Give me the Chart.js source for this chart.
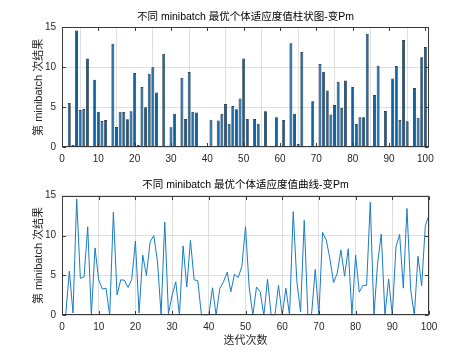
<!DOCTYPE html>
<html>
<head>
<meta charset="utf-8">
<script src="https://cdn.jsdelivr.net/npm/chart.js@4/dist/chart.umd.min.js"></script>
<style>
  html, body { margin: 0; padding: 0; background: #ffffff; }
  #wrap { position: relative; width: 474px; height: 355px; background: #ffffff; }
  #c1 { position: absolute; left: 0; top: 0; }
  #c2 { position: absolute; left: 0; top: 170px; }
</style>
</head>
<body>
<div id="wrap">
  <canvas id="c1" width="474" height="170"></canvas>
  <canvas id="c2" width="474" height="185"></canvas>
</div>
<script>
// ---- data ----
const iterations = [1,2,3,4,5,6,7,8,9,10,11,12,13,14,15,16,17,18,19,20,
  21,22,23,24,25,26,27,28,29,30,31,32,33,34,35,36,37,38,39,40,
  41,42,43,44,45,46,47,48,49,50,51,52,53,54,55,56,57,58,59,60,
  61,62,63,64,65,66,67,68,69,70,71,72,73,74,75,76,77,78,79,80,
  81,82,83,84,85,86,87,88,89,90,91,92,93,94,95,96,97,98,99,100];
const bestFitness = [
  0, 5.55, 0.3, 14.6, 4.65, 4.8, 11.1, 0, 8.45, 4.45,
  3.3, 3.4, 0, 12.95, 2.55, 4.45, 4.4, 3.5, 4.5, 9.3,
  0.3, 7.55, 5.0, 9.2, 10.0, 6.85, 0.1, 11.7, 0.2, 2.5,
  4.2, 0, 8.7, 3.55, 9.4, 4.45, 4.35, 0, 0, 0,
  3.45, 0, 3.35, 4.2, 5.4, 2.95, 5.15, 4.75, 6.1, 11.1,
  3.55, 0, 3.55, 2.95, 0, 4.5, 0, 0, 3.75, 0,
  3.4, 0, 13.0, 4.2, 0.4, 11.9, 0, 0.1, 5.75, 0,
  10.4, 9.45, 7.1, 4.1, 5.3, 8.2, 4.9, 8.35, 0, 7.55,
  2.9, 3.75, 3.75, 14.2, 0, 6.55, 10.2, 0, 4.55, 0,
  8.6, 10.15, 3.4, 13.4, 3.25, 0, 7.4, 3.7, 11.25, 12.55
];
const xTickValues = [0,10,20,30,40,50,60,70,80,90,100];
const yTickValues = [0,5,10,15];
const titleBar = '不同 minibatch 最优个体适应度值柱状图-变Pm';
const titleLine = '不同 minibatch 最优个体适应度值曲线-变Pm';
const yLabel = '第 minibatch 次结果';
const xLabel = '迭代次数';

// ---- styling ----
const FONT = '"Liberation Sans", "Noto Sans CJK SC", Arial, sans-serif';
const TEXT = '#262626';
const GRID = '#dfdfdf';
const FRAME = '#3a3a3a';

const boxPlugin = {
  id: 'matlabBox',
  afterDraw(chart) {
    const ctx = chart.ctx;
    const a = chart.chartArea;
    const xs = chart.scales.x, ys = chart.scales.y;
    ctx.save();
    ctx.strokeStyle = FRAME;
    ctx.lineWidth = 1;
    const L = Math.round(a.left) + 0.5, R = Math.round(a.right) - 0.5;
    const T = Math.round(a.top) + 0.5, B = Math.round(a.bottom) - 0.5;
    ctx.strokeRect(L, T, R - L, B - T);
    const tl = 3.5;
    ctx.beginPath();
    xTickValues.forEach(v => {
      const px = Math.round(xs.getPixelForValue(v)) + 0.5;
      ctx.moveTo(px, B); ctx.lineTo(px, B - tl);
      ctx.moveTo(px, T); ctx.lineTo(px, T + tl);
    });
    yTickValues.forEach(v => {
      const py = Math.round(ys.getPixelForValue(v)) + 0.5;
      ctx.moveTo(L, py); ctx.lineTo(L + tl, py);
      ctx.moveTo(R, py); ctx.lineTo(R - tl, py);
    });
    ctx.stroke();
    ctx.restore();
  }
};

function makeOptions(opts) {
  return {
    responsive: false,
    animation: false,
    devicePixelRatio: 1,
    layout: { padding: { left: 0, right: 45, top: 0, bottom: 0 } },
    plugins: {
      legend: { display: false },
      tooltip: { enabled: false },
      title: {
        display: true,
        fullSize: false,
        text: opts.title,
        color: '#000000',
        font: { family: FONT, size: 10.5, weight: 'normal', lineHeight: 1.2 },
        padding: { top: opts.titleTop, bottom: opts.titleBottom }
      }
    },
    scales: {
      x: {
        type: 'linear',
        min: 0,
        max: opts.xMax,
        offset: false,
        afterBuildTicks: s => { s.ticks = xTickValues.map(v => ({ value: v })); },
        afterFit: s => { s.height = opts.xHeight; },
        grid: { color: GRID, lineWidth: 1, drawTicks: false },
        border: { display: false },
        ticks: {
          color: TEXT, padding: 6, maxRotation: 0, autoSkip: false,
          font: { family: FONT, size: 10 }
        },
        title: opts.xTitle ? {
          display: true, text: opts.xTitle, color: TEXT,
          font: { family: FONT, size: 11, lineHeight: 1.2 },
          padding: { top: 0, bottom: 7.4 }
        } : { display: false }
      },
      y: {
        min: 0,
        max: 15,
        afterBuildTicks: s => { s.ticks = yTickValues.map(v => ({ value: v })); },
        afterFit: s => { s.width = 62; },
        grid: { color: GRID, lineWidth: 1, drawTicks: false },
        border: { display: false },
        ticks: { color: TEXT, padding: 6, font: { family: FONT, size: 10 } },
        title: {
          display: true, text: yLabel, color: TEXT,
          font: { family: FONT, size: 11, lineHeight: 1.2 },
          padding: { top: 32, bottom: 0 }
        }
      }
    }
  };
}

const points = iterations.map((x, i) => ({ x: x, y: bestFitness[i] }));

new Chart(document.getElementById('c1'), {
  type: 'bar',
  data: {
    datasets: [{
      data: points,
      backgroundColor: '#0d62a3',
      borderColor: '#0a1c2e',
      borderWidth: 0.75,
      barPercentage: 1.0,
      categoryPercentage: 0.8
    }]
  },
  options: makeOptions({ title: titleBar, titleTop: 11.3, titleBottom: 3.4, xMax: 101, xHeight: 22.7 }),
  plugins: [boxPlugin]
});

new Chart(document.getElementById('c2'), {
  type: 'line',
  data: {
    datasets: [{
      data: points,
      borderColor: '#1a7cc2',
      borderWidth: 1,
      pointRadius: 0,
      tension: 0,
      fill: false
    }]
  },
  options: makeOptions({ title: titleLine, titleTop: 9.3, titleBottom: 3.8, xMax: 100, xHeight: 39.7, xTitle: xLabel }),
  plugins: [boxPlugin]
});
</script>
</body>
</html>
